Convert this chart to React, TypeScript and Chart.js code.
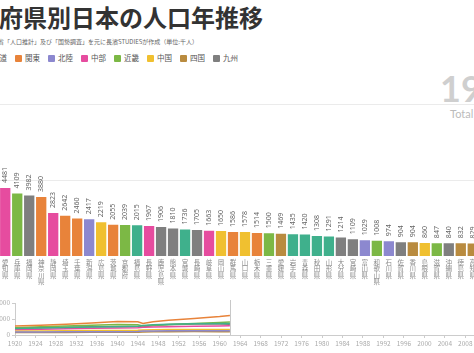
import React, { useEffect, useRef } from 'react';
import { Chart, registerables } from 'chart.js';

Chart.register(...registerables);

const CURRENT_YEAR = 1962;

const prefectures = ['愛知県','兵庫県','福岡県','神奈川県','静岡県','埼玉県','千葉県','新潟県','広島県','茨城県','京都府','福島県','長野県','鹿児島県','熊本県','宮城県','長崎県','岐阜県','岡山県','群馬県','山口県','栃木県','三重県','愛媛県','岩手県','青森県','秋田県','山形県','大分県','宮崎県','富山県','和歌山県','石川県','佐賀県','香川県','島根県','滋賀県','沖縄県','徳島県','高知県'];
const population = [4481,4109,3982,3880,2823,2642,2460,2417,2219,2055,2039,2015,1967,1906,1810,1736,1705,1663,1650,1586,1578,1514,1500,1469,1435,1420,1308,1291,1214,1109,1029,1008,974,904,904,860,847,840,832,829];
const prefRegion = ['中部','近畿','九州','関東','中部','関東','関東','北陸','中国','関東','近畿','東北・北海道','中部','九州','九州','東北・北海道','九州','中部','中国','関東','中国','関東','近畿','四国','東北・北海道','東北・北海道','東北・北海道','東北・北海道','九州','九州','北陸','近畿','北陸','九州','四国','中国','近畿','九州','四国','四国'];

const regions = ['東北・北海道','関東','北陸','中部','近畿','中国','四国','九州'];
const regionColors = ['#3fb08c','#e8833a','#8c88cf','#e64c9f','#7cb845','#f0c030','#b98b3f','#7f7f7f'];

const popGridValues = [5000, 10000];

const years = [1920,1925,1930,1935,1940,1944,1945,1947,1950,1955,1960,1962];
const tohokuSeries = [8160,8800,9500,10000,10400,10900,11800,12700,13300,14100,14400,14300];
const kantoSeries = [11100,12300,13500,15100,16900,16600,14400,16500,18300,20600,23000,24300];
const hokurikuSeries = [3850,3900,4000,4100,4100,4300,4950,5100,5200,5250,5200,5170];
const chubuSeries = [6850,7300,7800,8300,8800,9000,9600,10000,10300,10800,11400,11700];
const kinkiSeries = [9200,10200,11100,12200,13100,12900,11200,12300,13100,14300,15500,16200];
const chugokuSeries = [4960,5100,5300,5500,5700,5800,6200,6600,6800,6900,6900,6900];
const shikokuSeries = [3070,3100,3200,3300,3300,3400,3800,4100,4200,4250,4100,4000];
const kyushuSeries = [8700,9200,9700,10200,10500,10600,10000,11900,12800,13700,13800,13500];
const regionSeries = [tohokuSeries,kantoSeries,hokurikuSeries,chubuSeries,kinkiSeries,chugokuSeries,shikokuSeries,kyushuSeries];

const FONT = '"Noto Sans CJK JP", "Noto Sans", sans-serif';

const barLabels = {
  id: 'barLabels',
  afterDatasetsDraw(chart: any) {
    const ctx = chart.ctx;
    const meta = chart.getDatasetMeta(0);
    ctx.save();
    ctx.font = '7px "Noto Sans", sans-serif';
    ctx.fillStyle = '#666';
    ctx.textBaseline = 'middle';
    ctx.textAlign = 'left';
    meta.data.forEach((el: any, i: number) => {
      ctx.save();
      ctx.translate(el.x, el.y - 5);
      ctx.rotate(-Math.PI / 2);
      ctx.fillText(String(population[i]), 0, 0);
      ctx.restore();
    });
    ctx.restore();
  },
};

const yearMarker = {
  id: 'yearMarker',
  afterDatasetsDraw(chart: any) {
    const ctx = chart.ctx;
    const x = chart.scales.x.getPixelForValue(CURRENT_YEAR);
    const { top, bottom } = chart.chartArea;
    ctx.save();
    ctx.strokeStyle = '#c8c8c8';
    ctx.lineWidth = 1;
    ctx.beginPath();
    ctx.moveTo(Math.round(x) + 0.5, top - 3);
    ctx.lineTo(Math.round(x) + 0.5, bottom);
    ctx.stroke();
    ctx.restore();
  },
};

export default function App() {
  const barRef = useRef<HTMLCanvasElement>(null);
  const lineRef = useRef<HTMLCanvasElement>(null);

  useEffect(() => {
    const barChart = new Chart(barRef.current!, {
      type: 'bar',
      data: {
        labels: prefectures,
        datasets: [{
          data: population,
          backgroundColor: prefRegion.map(r => regionColors[regions.indexOf(r)]),
          borderWidth: 0,
          barPercentage: 1,
          categoryPercentage: 0.86,
        }],
      },
      options: {
        responsive: false,
        animation: false,
        events: [],
        layout: { padding: { top: 4, left: 0, right: 0, bottom: 0 } },
        plugins: { legend: { display: false }, tooltip: { enabled: false } },
        scales: {
          x: {
            afterFit: (s: any) => { s.height = 44; },
            grid: { display: false, drawTicks: false },
            border: { display: false },
            ticks: {
              autoSkip: false,
              maxRotation: 0,
              minRotation: 0,
              padding: 3,
              color: '#8a8a8a',
              font: { family: FONT, size: 6.5, lineHeight: 1.0 },
              callback: (_v: any, i: number) => prefectures[i].split(''),
            },
          },
          y: {
            min: 0,
            max: 10000,
            afterFit: (s: any) => { s.width = 0; },
            afterBuildTicks: (s: any) => { s.ticks = popGridValues.map(v => ({ value: v })); },
            ticks: { display: false },
            grid: { drawTicks: false, color: '#ebebeb', lineWidth: 1 },
            border: { display: false },
          },
        },
      },
      plugins: [barLabels],
    });

    const lineChart = new Chart(lineRef.current!, {
      type: 'line',
      data: {
        labels: years,
        datasets: regions.map((r, k) => ({
          label: r,
          data: years.map((y, i) => ({ x: y, y: regionSeries[k][i] })),
          borderColor: regionColors[k],
          backgroundColor: regionColors[k],
          borderWidth: 1.5,
          pointRadius: 0,
          tension: 0,
        })),
      },
      options: {
        responsive: false,
        animation: false,
        events: [],
        layout: { padding: { top: 13, left: 0, right: 0, bottom: 0 } },
        plugins: { legend: { display: false }, tooltip: { enabled: false } },
        scales: {
          x: {
            type: 'linear',
            min: 1920,
            max: 2012,
            afterFit: (s: any) => { s.height = 18; },
            grid: { drawOnChartArea: false, drawTicks: true, tickLength: 3, color: '#cccccc' },
            border: { display: true, color: '#cccccc' },
            ticks: {
              stepSize: 4,
              padding: 2,
              color: '#aaa',
              font: { family: FONT, size: 6.5 },
              callback: (v: any) => String(v),
            },
          },
          y: {
            min: 0,
            max: 40000,
            afterFit: (s: any) => { s.width = 30; },
            grid: { drawOnChartArea: false, drawTicks: true, tickLength: 3, color: '#cccccc' },
            border: { display: true, color: '#cccccc' },
            ticks: {
              stepSize: 10000,
              padding: 2,
              color: '#aaa',
              font: { family: FONT, size: 6.5 },
              callback: (v: any) => String(v),
            },
          },
        },
      },
      plugins: [yearMarker],
    });

    return () => {
      barChart.destroy();
      lineChart.destroy();
    };
  }, []);

  return (
    <div style={{ position: 'fixed', left: 0, top: 0, width: 474, height: 353, overflow: 'hidden', background: '#fff', fontFamily: FONT }}>
      <div style={{ position: 'absolute', left: -49, top: 4, fontSize: 24, lineHeight: '25px', fontWeight: 700, color: '#333', whiteSpace: 'nowrap' }}>
        都道府県別日本の人口年推移
      </div>
      <div style={{ position: 'absolute', left: -32, top: 38, fontSize: 6, lineHeight: '8px', color: '#666', whiteSpace: 'nowrap' }}>
        出典：総務省「人口推計」及び「国勢調査」を元に長濱STUDIESが作成（単位:千人）
      </div>
      <div style={{ position: 'absolute', left: -48, top: 53, display: 'flex', alignItems: 'center', whiteSpace: 'nowrap', fontSize: 7.5, lineHeight: '10px', color: '#555' }}>
        {regions.map((r, k) => (
          <div key={r} style={{ display: 'flex', alignItems: 'center', marginRight: 8 }}>
            <span style={{ display: 'inline-block', width: 7, height: 7, borderRadius: 1, background: regionColors[k], marginRight: 3 }} />
            <span>{r}</span>
          </div>
        ))}
      </div>
      <div style={{ position: 'absolute', left: 440, top: 70, fontSize: 36, lineHeight: '36px', fontWeight: 700, color: '#cfcfcf', fontFamily: 'Lato, sans-serif', whiteSpace: 'nowrap' }}>
        {CURRENT_YEAR}
      </div>
      <div style={{ position: 'absolute', left: 450, top: 107, fontSize: 11, lineHeight: '14px', color: '#bbb', fontFamily: 'Lato, sans-serif', whiteSpace: 'nowrap' }}>
        Total
      </div>
      <canvas ref={barRef} width={480} height={200} style={{ position: 'absolute', left: -1, top: 100 }} />
      <canvas ref={lineRef} width={510} height={63} style={{ position: 'absolute', left: -15, top: 290 }} />
    </div>
  );
}
